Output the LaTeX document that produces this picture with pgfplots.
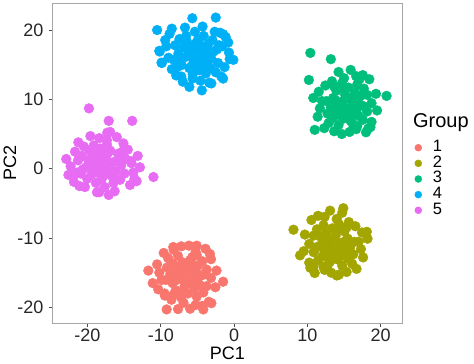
\documentclass[border=0pt]{standalone}
\usepackage{pgfplots}
\pgfplotsset{compat=1.18}
\usepackage{fontspec}
\setmainfont{Liberation Sans}
\definecolor{g1}{HTML}{F8766D}
\definecolor{g2}{HTML}{A3A500}
\definecolor{g3}{HTML}{00BF7D}
\definecolor{g4}{HTML}{00B0F6}
\definecolor{g5}{HTML}{E76BF3}
\begin{document}
\begin{tikzpicture}
\useasboundingbox (-52.3pt,-40.7pt) rectangle (421.7pt,323.3pt);
\begin{axis}[
  scale only axis, width=350.4pt, height=320.3pt,
  xmin=-24.8, xmax=23.0, ymin=-22.3, ymax=23.9,
  xtick={-20,-10,0,10,20}, ytick={-20,-10,0,10,20},
  xtick pos=bottom, ytick pos=left,
  /pgf/number format/assume math mode=true,
  axis line style={draw=black!35, line width=0.6pt},
  tick align=outside, major tick length=3.7pt,
  tick style={black!70, line width=0.6pt},
  ticklabel style={font=\fontsize{18}{18}\selectfont, text=black!85, inner sep=1pt},
  xticklabel style={yshift=-1pt},
  yticklabel style={xshift=-4pt},
  xlabel={PC1}, ylabel={PC2},
  label style={font=\fontsize{18}{18}\selectfont, inner sep=1pt},
  xlabel style={at={(axis description cs:0.5,-0.1135)}, anchor=base},
  ylabel style={at={(axis description cs:-0.121,0.5)}, anchor=center},
  legend style={at={(axis description cs:1.0345,0.4505)}, anchor=west, draw=none, fill=none,
    inner sep=0pt, outer sep=0pt,
    font=\fontsize{16.5}{16.5}\selectfont, row sep=0pt, column sep=11.2pt,
    nodes={inner sep=0pt, text height=11.65pt, text depth=4pt}},
  legend cell align=left,
  legend image code/.code={\draw[#1, mark size=3.5pt] plot coordinates {(0cm,0cm)};},
  clip=false,
]
\addplot[only marks, mark=*, mark size=4.9pt, color=g1] coordinates {
(-5.85,-15.3) (-5.4,-17.25) (-7.05,-13.5) (-8.4,-16.5) (-5.1,-12.45) (-7.2,-18.6) (-3.75,-14.55) (-9.9,-16.05)
(-6.45,-14.1) (-4.2,-17.85) (-7.8,-15.0) (-6.75,-16.95) (-8.25,-11.7) (-5.25,-19.65) (-3.15,-13.05) (-9.45,-18.3)
(-4.8,-15.6) (-9.15,-14.25) (-6.15,-16.35) (-5.7,-12.75) (-7.95,-17.55) (-5.25,-14.7) (-7.35,-15.9) (-6.15,-11.1)
(-7.65,-20.25) (-10.5,-13.8) (-2.55,-17.1) (-9.6,-12.15) (-3.45,-19.2) (-8.7,-15.15) (-4.65,-16.8) (-4.35,-13.35)
(-6.3,-18.0) (-6.9,-14.4) (-3.15,-15.75) (-7.65,-12.6) (-8.55,-18.9) (-4.95,-13.95) (-8.1,-16.2) (-6.6,-14.85)
(-10.35,-17.4) (-3.9,-11.55) (-4.35,-19.8) (-8.4,-13.65) (-5.7,-16.65) (-7.05,-15.45) (-9.0,-12.9) (-5.1,-18.45)
(-2.4,-14.7) (-11.1,-16.5) (-7.2,-11.2) (-6.0,-20.2) (-6.0,-13.2) (-6.9,-17.7) (-4.2,-15.3) (-9.3,-16.05)
(-5.25,-12.0) (-6.9,-19.35) (-5.55,-14.25) (-3.75,-16.95) (-7.95,-14.1) (-5.25,-15.9) (-10.2,-15.0) (-8.25,-18.15)
(-3.3,-12.3)
(-8.3,-11.3) (-5.1,-11.1) (-11.7,-14.7) (-1.5,-16.3) (-9.2,-20.3) (-4.2,-20.3) (-3.1,-19.4) (-9.5,-18.0)
};
\addlegendentry{1}
\addplot[only marks, mark=*, mark size=4.9pt, color=g2] coordinates {
(12.95,-11.3) (12.5,-9.35) (14.15,-13.1) (15.5,-10.1) (12.2,-14.15) (14.3,-8.0) (10.85,-12.05) (17.0,-10.55)
(13.55,-12.5) (11.3,-8.75) (14.9,-11.6) (13.85,-9.65) (15.35,-14.9) (12.35,-6.95) (10.25,-13.55) (16.55,-8.3)
(11.9,-11.0) (16.25,-12.35) (13.25,-10.25) (12.8,-13.85) (15.05,-9.05) (12.35,-11.9) (14.45,-10.7) (13.25,-15.0)
(14.75,-6.35) (17.6,-12.8) (9.65,-9.5) (16.7,-14.45) (10.55,-7.4) (15.8,-11.45) (11.75,-9.8) (11.45,-13.25)
(13.4,-8.6) (14.0,-12.2) (10.25,-10.85) (14.75,-14.0) (15.65,-7.7) (12.05,-12.65) (15.2,-10.4) (13.7,-11.75)
(17.45,-9.2) (11.0,-15.05) (11.45,-6.8) (15.5,-12.95) (12.8,-9.95) (14.15,-11.15) (16.1,-13.7) (12.2,-8.15)
(9.5,-11.9) (18.2,-10.1) (14.3,-15.3) (13.1,-6.05) (13.1,-13.4) (14.0,-8.9) (11.3,-11.3) (16.4,-10.55)
(12.35,-14.6) (14.0,-7.25) (12.65,-12.35) (10.85,-9.65) (15.05,-12.5) (12.35,-10.7) (17.3,-11.6) (15.35,-8.45)
(10.4,-14.3)
(8.1,-8.8) (14.9,-5.7) (14.0,-15.4) (10.8,-14.2) (18.1,-9.1) (9.0,-12.5)
};
\addlegendentry{2}
\addplot[only marks, mark=*, mark size=4.9pt, color=g3] coordinates {
(16.05,9.0) (16.5,10.95) (14.85,7.2) (13.5,10.2) (16.8,6.15) (14.7,12.3) (18.15,8.25) (12.0,9.75)
(15.45,7.8) (17.7,11.55) (14.1,8.7) (15.15,10.65) (13.65,5.4) (16.65,13.35) (18.75,6.75) (12.45,12.0)
(17.1,9.3) (12.75,7.95) (15.75,10.05) (16.2,6.45) (13.95,11.25) (16.65,8.4) (14.55,9.6) (15.75,5.3)
(14.25,13.95) (11.4,7.5) (19.35,10.8) (12.3,5.85) (18.45,12.9) (13.2,8.85) (17.25,10.5) (17.55,7.05)
(15.6,11.7) (15.0,8.1) (18.75,9.45) (14.25,6.3) (13.35,12.6) (16.95,7.65) (13.8,9.9) (15.3,8.55)
(11.55,11.1) (18.0,5.25) (17.55,13.5) (13.5,7.35) (16.2,10.35) (14.85,9.15) (12.9,6.6) (16.8,12.15)
(19.5,8.4) (10.8,10.2) (14.7,5.0) (15.9,14.25) (15.9,6.9) (15.0,11.4) (17.7,9.0) (12.6,9.75)
(16.65,5.7) (15.0,13.05) (16.35,7.95) (18.15,10.65) (13.95,7.8) (16.65,9.6) (11.7,8.7) (13.65,11.85)
(18.6,6.0)
(10.4,16.7) (13.2,15.8) (10.2,12.8) (20.8,10.5) (11.0,5.6) (18.3,5.8) (17.1,12.9)
};
\addlegendentry{3}
\addplot[only marks, mark=*, mark size=4.9pt, color=g4] coordinates {
(-4.9,17.05) (-6.85,17.5) (-3.1,15.85) (-6.1,14.5) (-2.05,17.8) (-8.2,15.7) (-4.15,19.15) (-5.65,13.0)
(-3.7,16.45) (-7.45,18.7) (-4.6,15.1) (-6.55,16.15) (-1.3,14.65) (-9.25,17.65) (-2.65,19.75) (-7.9,13.45)
(-5.2,18.1) (-3.85,13.75) (-5.95,16.75) (-2.35,17.2) (-7.15,14.95) (-4.3,17.65) (-5.5,15.55) (-0.7,16.75)
(-9.85,15.25) (-3.4,12.4) (-6.7,20.35) (-1.75,13.3) (-8.8,19.45) (-4.75,14.2) (-6.4,18.25) (-2.95,18.55)
(-7.6,16.6) (-4.0,16.0) (-5.35,19.75) (-2.2,15.25) (-8.5,14.35) (-3.55,17.95) (-5.8,14.8) (-4.45,16.3)
(-7.0,12.55) (-1.15,19.0) (-9.4,18.55) (-3.25,14.5) (-6.25,17.2) (-5.05,15.85) (-2.5,13.9) (-8.05,17.8)
(-4.3,20.5) (-6.1,11.8) (-0.1,15.7) (-10.15,16.9) (-2.8,16.9) (-7.3,16.0) (-4.9,18.7) (-5.65,13.6)
(-1.6,17.65) (-8.95,16.0) (-3.85,17.35) (-6.55,19.15) (-3.7,14.95) (-5.5,17.65) (-4.6,12.7) (-7.75,14.65)
(-1.9,19.6)
(-5.7,21.7) (-2.5,21.8) (-10.5,20.0) (-8.5,20.2) (-10.2,17.0) (-9.9,15.3) (-4.4,11.3) (-0.6,15.8)
(-0.8,18.2) (-1.5,19.4) (-7.2,13.3) (-3.1,12.3) (-1.5,13.0)
};
\addlegendentry{4}
\addplot[only marks, mark=*, mark size=4.9pt, color=g5] coordinates {
(-18.1,0.05) (-16.15,-0.4) (-19.9,1.25) (-16.9,2.6) (-20.95,-0.7) (-14.8,1.4) (-18.85,-2.05) (-17.35,4.1)
(-19.3,0.65) (-15.55,-1.6) (-18.4,2.0) (-16.45,0.95) (-21.7,2.45) (-13.75,-0.55) (-20.35,-2.65) (-15.1,3.65)
(-17.8,-1.0) (-19.15,3.35) (-17.05,0.35) (-20.65,-0.1) (-15.85,2.15) (-18.7,-0.55) (-17.5,1.55) (-22.3,0.35)
(-13.15,1.85) (-19.6,4.7) (-16.3,-3.25) (-21.25,3.8) (-14.2,-2.35) (-18.25,2.9) (-16.6,-1.15) (-20.05,-1.45)
(-15.4,0.5) (-19.0,1.1) (-17.65,-2.65) (-20.8,1.85) (-14.5,2.75) (-19.45,-0.85) (-17.2,2.3) (-18.55,0.8)
(-16.0,4.55) (-21.85,-1.9) (-13.6,-1.45) (-19.75,2.6) (-16.75,-0.1) (-17.95,1.25) (-20.5,3.2) (-14.95,-0.7)
(-18.7,-3.4) (-16.9,5.3) (-22.9,1.4) (-12.85,0.2) (-20.2,0.2) (-15.7,1.1) (-18.1,-1.6) (-17.35,3.5)
(-21.4,-0.55) (-14.05,1.1) (-19.15,-0.25) (-16.45,-2.05) (-19.3,2.15) (-17.5,-0.55) (-18.4,4.4) (-15.25,2.45)
(-21.1,-2.5)
(-19.8,8.7) (-17.1,6.9) (-13.9,6.9) (-17.3,5.2) (-22.6,-0.9) (-21.5,-0.7) (-11.0,-1.2) (-13.3,-1.8)
(-18.4,-3.4) (-17.1,-3.8) (-14.0,0.8) (-21.3,1.2)
};
\addlegendentry{5}
\node[anchor=base west, font=\fontsize{20}{20}\selectfont, inner sep=0pt] at (rel axis cs:1.029,0.6107) {Group};
\end{axis}
\end{tikzpicture}
\end{document}
